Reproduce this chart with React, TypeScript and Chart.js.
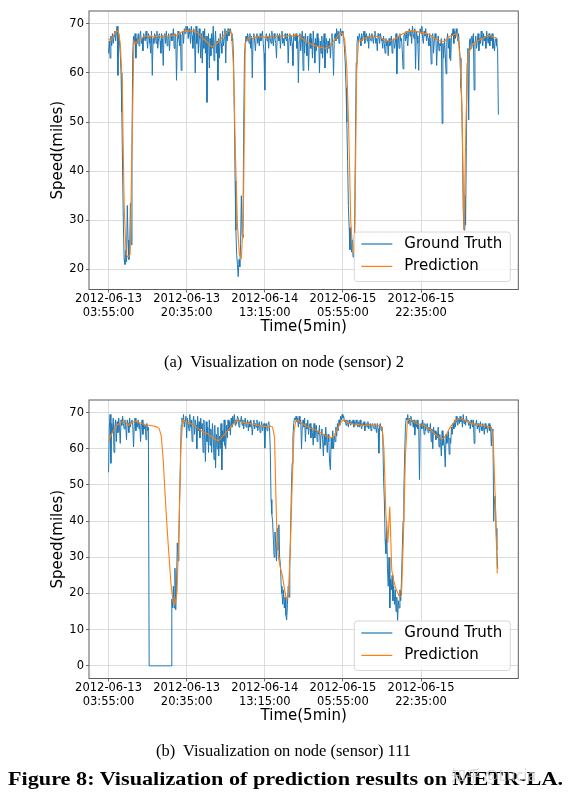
import React, { useEffect, useRef } from "react";
import Chart from "chart.js/auto";

const xTickValues = [0, 200, 400, 600, 800];
const xTickLabels = [
  ["2012-06-13", "03:55:00"],
  ["2012-06-13", "20:35:00"],
  ["2012-06-14", "13:15:00"],
  ["2012-06-15", "05:55:00"],
  ["2012-06-15", "22:35:00"],
];
const xRange = [-50, 1049];

const seriesLabels = ["Ground Truth", "Prediction"];
const seriesColors = ["#1f77b4", "#ff7f0e"];

// ground truth read every 2 time steps, prediction every 5 (1 step = 5 min)
const truthStep = 2;
const predStep = 5;

const truthNode2 = [
  64, 66.5, 63, 67.5, 65.5, 68, 66, 67.5, 68.5, 66.5,
  68.5, 69.5, 59.5, 68, 66.5, 64, 60, 52, 40, 29,
  22, 21, 24, 21.5, 33, 26, 22, 23.5, 33.5, 25,
  45, 64, 67.5, 66, 68, 63, 67, 66, 68, 65.5,
  67.5, 68.5, 66, 67, 64.5, 68, 67, 66.5, 68.5, 67,
  65, 68, 67.5, 66, 64, 68.5, 59.5, 67, 66, 68,
  67.5, 66, 68.5, 65, 67, 68, 66.5, 64, 68, 67,
  61.5, 67.5, 68, 66, 68.5, 65.5, 67, 68, 64.5, 67.5,
  68, 66.5, 67, 69, 65, 68, 67.5, 58.5, 66, 68.5,
  67, 65.5, 68, 60.5, 67.5, 68.5, 66, 69, 68, 69.5,
  68.5, 69.5, 67, 69, 68, 66, 69.5, 67.5, 65, 69,
  68, 60, 69.5, 66, 68.5, 64, 69, 67, 63, 68,
  62, 68.5, 65, 69, 64, 67.5, 54, 66, 68, 61,
  67, 63.5, 68, 65, 69.5, 62.5, 66, 68.5, 64, 66.5,
  58.5, 67, 63, 68, 66, 64, 68.5, 65.5, 67, 69,
  62, 68.5, 66.5, 69, 67.5, 68.5, 69, 68, 66.5, 67,
  63, 52, 38, 28, 23, 21, 18.5, 22, 20.5, 25,
  35, 27, 26.5, 49, 63.5, 66, 67.5, 66.5, 68, 67,
  66, 68, 65, 67.5, 59, 67, 68, 66.5, 64.5, 67.5,
  68, 66, 67.5, 65.5, 68, 66.5, 67, 68.5, 66, 64,
  56.5, 67, 68, 66.5, 67.5, 65, 68, 67, 66, 68.5,
  67, 65.5, 68, 67, 66, 63, 68, 67.5, 66.5, 68,
  65, 67.5, 68.5, 66, 67, 65.5, 68, 67, 66.5, 68,
  62, 67, 68, 65.5, 67.5, 66, 61.5, 68, 67, 66.5,
  68, 65, 67.5, 58, 66.5, 68, 64.5, 67, 68.5, 60.5,
  67.5, 64, 68, 66, 63.5, 67.5, 60.5, 66, 68, 65,
  67, 63, 68.5, 66, 62, 67, 64.5, 68, 65.5, 67,
  60, 66.5, 64, 67.5, 63, 66, 68, 61, 65.5, 67,
  64, 66.5, 65, 67, 63, 66, 68, 65.5, 59.5, 67,
  68, 66.5, 69, 67, 68.5, 66, 68, 69, 67.5, 68.5,
  68, 67, 65, 62, 57, 50, 42, 33, 28.5, 24,
  28.5, 23.5, 26, 22.5, 24, 29, 45, 62, 66, 67.5,
  66.5, 68, 67, 65.5, 68, 66.5, 67.5, 68.5, 66, 67.5,
  68, 66.5, 67.5, 65, 68, 67, 66.5, 68, 67.5, 66,
  67.5, 68.5, 66, 67, 64.5, 68, 67.5, 66, 68, 67,
  66.5, 65, 67.5, 66, 64, 67, 65.5, 66.5, 63.5, 67,
  65.5, 66, 67.5, 64, 66.5, 67, 65, 66, 68, 59.8,
  66, 67.5, 65, 68, 66.5, 67, 64.5, 60.8, 67.5, 68,
  66.5, 68.5, 67, 65.5, 68, 69, 67.5, 68.5, 66, 69.5,
  68, 67, 69, 60.8, 68.5, 67.5, 66, 60.5, 68, 69,
  68, 69.5, 67, 66, 68.5, 67.5, 69, 66.5, 68, 67,
  65.5, 68, 66.5, 61.8, 67.5, 68, 64, 66.5, 68, 67,
  61.5, 66, 67.5, 64.5, 66, 65.5, 67, 49.7, 66, 63,
  67, 64, 59.8, 66.5, 68, 65, 67, 63, 62.5, 68,
  67.5, 69, 66, 68.5, 67, 69, 68, 66.5, 68, 65.5,
  63, 57, 55, 45, 32, 28, 35, 29, 45, 62,
  65, 50.4, 66.5, 67, 65, 67.5, 66, 68, 56.5, 66,
  67.5, 65, 66.5, 68, 64.5, 67, 66, 68.5, 67, 65.5,
  68, 66.5, 67.5, 65, 68.5, 67, 66, 68, 65.5, 67.5,
  66.5, 68, 65, 67, 64.5, 66.5, 67, 65.5, 65, 51.5,
];

const predNode2 = [
  67, 66.5, 67, 68, 68.5, 68.5, 66, 58, 33, 23,
  22.5, 23, 44, 66.5, 66, 66.5, 67, 67, 67.5, 67.5,
  67.5, 67.3, 67.6, 67.2, 67.5, 67.4, 67.6, 67.3, 67.5, 67.6,
  67.5, 67.4, 67.6, 67.5, 67.8, 67.6, 68, 68.2, 68.4, 68.5,
  68.6, 68.5, 68.7, 68.5, 68.6, 68.3, 68, 67.7, 67.2, 66.8,
  66.5, 66, 65.6, 65.3, 65.5, 65.8, 66.2, 66.8, 67.2, 67.6,
  68, 68.4, 68.6, 68, 61, 43, 29, 23, 22.3, 30,
  66, 66.8, 67, 67.2, 67, 67.3, 67.2, 67.5, 67.3, 67.4,
  67.2, 67.5, 67.3, 67.4, 67.5, 67.3, 67.4, 67.6, 67.5, 67.5,
  67.6, 67.4, 67.5, 67.7, 67.5, 67.6, 67.8, 67.6, 67.3, 67,
  66.8, 66.5, 66.3, 66, 65.8, 65.7, 65.5, 65.4, 65.3, 65.2,
  65.1, 65, 65.1, 65.4, 65.8, 66.3, 66.8, 67.3, 67.8, 68,
  68, 66.5, 61, 48, 30, 23.5, 24, 60, 66.5, 66.5,
  66.8, 67, 67.2, 67.3, 67.5, 67.4, 67.5, 67.5, 67.3, 67.2,
  67, 66.8, 66.7, 66.5, 66.5, 66.6, 66.8, 67, 67.3, 67.6,
  67.8, 68, 68.2, 68.4, 68.5, 68.6, 68.5, 68.5, 68.4, 68.3,
  68.2, 68.1, 68, 68, 67.8, 67.6, 67.3, 67, 66.8, 66.6,
  66.5, 66.4, 66.5, 66.8, 67.2, 67.5, 67.6, 67.8, 68, 67,
  63, 52, 28, 50, 63.5, 64.5, 65.5, 66, 66.3, 66.5,
  66.7, 66.9, 67.1, 67.3, 67.5, 67.6, 67.5, 67.3, 67.2, 67,
];

const yTicksNode2 = [20, 30, 40, 50, 60, 70];
const yRangeNode2 = [15.9, 72.6];

const truthNode111 = [
  53.5, 66, 69.5, 56, 67, 64.5, 68.5, 59, 66, 68,
  62, 67.5, 64.5, 68.5, 66, 61.5, 68, 66.5, 69, 67,
  65.5, 68, 66.5, 62.5, 68, 67, 64.5, 68.5, 66, 67.5,
  68, 66.5, 60.5, 67, 68.5, 65, 67.5, 66, 68, 65.5,
  67, 62, 66.5, 68, 64, 67, 65.5, 66.5, 62.5, 67,
  65, 66, 0, 0, 0, 0, 0, 0, 0, 0,
  0, 0, 0, 0, 0, 0, 0, 0, 0, 0,
  0, 0, 0, 0, 0, 0, 0, 0, 0, 0,
  0, 18.5, 16, 22, 16, 27, 15.5, 22, 34, 29,
  35, 46, 56, 66.5, 68.5, 67, 69.5, 66, 68, 69,
  63, 68.5, 67, 65, 69.5, 66, 68, 62, 67.5, 69,
  64, 68, 66.5, 60, 69, 65, 67.5, 63, 68.5, 65.5,
  67, 59, 68, 64, 56.5, 67.5, 62, 66, 59, 68,
  61, 65.5, 59, 67, 63, 57, 66.5, 54.7, 64, 60,
  66, 58, 63.5, 60, 67, 54.2, 65, 62, 68, 61,
  60, 66.5, 63, 68, 65, 67.5, 63.8, 68.5, 66, 69,
  67, 69.5, 66.5, 68, 67, 69, 68.5, 66, 68, 67.5,
  69, 66.5, 68, 65.5, 67.5, 68.5, 66, 67, 68, 65,
  67.5, 66, 68, 67, 63.8, 66.5, 68, 65.5, 67, 66,
  68, 65, 66.5, 67.5, 64.5, 66, 67.5, 65, 66.5, 67,
  60.2, 66.5, 67, 65, 66.5, 67.5, 66, 60, 46, 42,
  40, 35, 30, 37, 34, 29, 38, 32, 39, 30,
  28, 22, 20, 17, 21, 16, 19, 14, 12.7, 17,
  22, 19, 28, 37, 48, 56, 63, 67, 68.5, 68,
  69, 67.5, 68.5, 66, 69, 67, 68, 60, 66.5, 68,
  66, 68.5, 62, 67, 65.5, 68, 64, 66.5, 67, 63,
  66, 64.5, 61, 67, 63, 65.5, 66.5, 62, 65, 64,
  66.5, 60, 64, 65.5, 62.5, 58, 64, 61, 66, 63,
  59, 64, 62, 56, 54.2, 63, 60, 65, 60, 63.5,
  62, 66, 63.5, 67, 65, 68, 66.5, 69, 68, 69.5,
  68.5, 69, 67.5, 68, 66.5, 68, 67.5, 66, 68, 67,
  66.5, 67.5, 67, 68, 66, 67.5, 66.5, 68, 67, 66,
  67.5, 66, 68, 66.5, 65.5, 67, 66.5, 67.5, 65, 66.5,
  67, 66, 67.5, 65.5, 66.5, 67, 65, 66.5, 67, 66,
  65.5, 67, 66, 64.5, 67, 65.5, 58.8, 66.5, 67, 65,
  66, 64, 52, 46, 35, 31, 40, 27, 22, 30,
  16, 24, 21, 25, 18, 22, 17, 21, 15, 19,
  12.5, 18, 16, 21, 18, 24, 32, 40, 48, 58,
  66, 68.5, 68, 69.5, 67, 68.5, 66.5, 69, 67.5, 68,
  66, 68, 63.8, 67.5, 66, 68, 65.5, 67, 51.5, 66,
  67, 65.5, 68, 66.5, 64, 67, 65, 66.5, 67, 64.5,
  66, 65, 67, 62, 65.5, 60, 66, 64, 65, 62.5,
  64.5, 63, 66, 60.5, 64, 62, 58, 65, 61, 63.5,
  60, 55, 64, 61.5, 62.5, 65, 58.5, 63, 61.5, 66,
  64, 67, 65.5, 68, 66, 69, 67.5, 66.5, 68.5, 67,
  69, 67.5, 68.5, 66, 69.5, 67, 68, 66.5, 69, 67.5,
  68, 66.5, 67.5, 65.5, 68, 67, 66, 68, 61.5, 67,
  66.5, 68, 65.5, 67, 66, 64.5, 67.5, 66, 65, 67,
  66, 64, 67, 65.5, 66.5, 64.5, 66, 67, 65, 66.5,
  60.8, 65, 65.5, 40, 46, 47, 38, 32, 27, 27,
];

const predNode111 = [
  62, 63.5, 64.5, 65.5, 66.2, 66.8, 67.2, 67.5, 67.6, 67.3,
  66.5, 66.8, 67.3, 67.5, 67.6, 67.4, 67.2, 67, 66.8, 66.6,
  66.5, 66.5, 66.4, 66.3, 66.2, 66, 65.5, 63.5, 57, 47,
  38, 30, 22.5, 18, 17, 20, 36, 60, 68, 67.5,
  67.5, 67.3, 67, 66.7, 66.3, 66, 65.6, 65.2, 64.8, 64.4,
  64.4, 64, 63.6, 63.2, 62.8, 62.5, 62.2, 62.5, 63.2, 63.8,
  64.4, 65, 65.6, 66.3, 67, 67.5, 67.8, 67.6, 67.4, 67.3,
  67.2, 67, 67.1, 66.9, 66.8, 66.7, 66.6, 66.5, 66.4, 66.3,
  66.2, 66.1, 66, 66.3, 66, 63, 40, 30, 27, 25,
  21.5, 18.5, 19, 31, 50, 65, 68, 67.8, 67.5, 67,
  66.7, 66.4, 66.1, 65.8, 65.6, 65.5, 65.2, 64.9, 64.6, 64.3,
  64, 63.7, 63.4, 63.2, 63, 63.4, 64.2, 65.2, 66.4, 67.4,
  68, 67.8, 67.4, 67.1, 67, 66.9, 66.8, 66.7, 66.7, 66.6,
  66.6, 66.5, 66.6, 66.5, 66.5, 66.6, 66.5, 66.4, 66.5, 66.4,
  66, 60, 42, 34, 44, 26.5, 23.5, 21.5, 20.2, 19,
  19.5, 36, 58, 67.5, 68.2, 68, 67.6, 67.2, 66.9, 66.7,
  66.6, 66.5, 66.3, 66, 65.6, 65.2, 64.7, 64.2, 63.7, 63.3,
  63, 62.8, 63.2, 64, 65, 66, 66.8, 67.4, 67.9, 68.2,
  68.3, 68.2, 68, 67.7, 67.4, 67.1, 67, 66.9, 66.8, 66.7,
  66.6, 66.5, 66.4, 66.3, 66.2, 66.1, 66, 62, 46, 25.5,
];

const yTicksNode111 = [0, 10, 20, 30, 40, 50, 60, 70];
const yRangeNode111 = [-3.5, 73.5];

const FONT = "DejaVu Sans";

// matplotlib-like closed frame plus a legend box inside the lower right corner
const frameLegend = {
  id: "frameLegend",
  afterDatasetsDraw(chart: any) {
    const { ctx, chartArea: a } = chart;
    ctx.save();
    ctx.strokeStyle = "#5e5e5e";
    ctx.lineWidth = 1;
    ctx.strokeRect(a.left, a.top, a.right - a.left, a.bottom - a.top);

    const w = 156;
    const h = 49.5;
    const lx = a.right - 8 - w;
    const ly = a.bottom - 8 - h;
    ctx.beginPath();
    ctx.roundRect(lx, ly, w, h, 3);
    ctx.fillStyle = "rgba(255,255,255,0.8)";
    ctx.fill();
    ctx.strokeStyle = "#d8d8d8";
    ctx.stroke();
    ctx.font = `15px "${FONT}"`;
    ctx.textBaseline = "middle";
    chart.data.datasets.forEach((ds: any, i: number) => {
      const cy = ly + 12 + i * 22.4;
      ctx.strokeStyle = ds.borderColor;
      ctx.lineWidth = 1.2;
      ctx.beginPath();
      ctx.moveTo(lx + 7, cy);
      ctx.lineTo(lx + 38, cy);
      ctx.stroke();
      ctx.fillStyle = "#000";
      ctx.fillText(ds.label, lx + 50, cy);
    });
    ctx.restore();
  },
};

interface PanelProps {
  truth: number[];
  pred: number[];
  yTicks: number[];
  yRange: number[];
  top: number;
}

const Panel = ({ truth, pred, yTicks, yRange, top }: PanelProps) => {
  const chartRef = useRef<HTMLCanvasElement | null>(null);

  useEffect(() => {
    if (!chartRef.current) return;
    const chart = new Chart(chartRef.current, {
      type: "line",
      data: {
        datasets: [
          {
            label: seriesLabels[0],
            data: truth.map((v, i) => ({ x: i * truthStep, y: v })),
            borderColor: seriesColors[0],
            borderWidth: 1,
            pointRadius: 0,
            order: 2,
          },
          {
            label: seriesLabels[1],
            data: pred.map((v, i) => ({ x: i * predStep, y: v })),
            borderColor: seriesColors[1],
            borderWidth: 1.1,
            pointRadius: 0,
            order: 1,
          },
        ],
      },
      options: {
        responsive: false,
        animation: false,
        events: [],
        layout: { padding: { left: 0, top: 11, right: 49.7, bottom: 0 } },
        plugins: { legend: { display: false }, tooltip: { enabled: false } },
        scales: {
          x: {
            type: "linear",
            min: xRange[0],
            max: xRange[1],
            afterBuildTicks: (s: any) => {
              s.ticks = xTickValues.map((v) => ({ value: v }));
            },
            afterFit: (s: any) => {
              s.height = 50.5;
            },
            ticks: {
              autoSkip: false,
              maxRotation: 0,
              minRotation: 0,
              padding: 0,
              color: "#000",
              font: { family: FONT, size: 11.5 },
              callback: (v: any) => xTickLabels[xTickValues.indexOf(v)],
            },
            grid: { color: "#d3d3d3", lineWidth: 0.8, tickLength: 3, tickColor: "#444" },
            border: { display: false },
            title: {
              display: true,
              text: "Time(5min)",
              color: "#000",
              font: { family: FONT, size: 15 },
              padding: { top: 0, bottom: 4 },
            },
          },
          y: {
            type: "linear",
            min: yRange[0],
            max: yRange[1],
            afterBuildTicks: (s: any) => {
              s.ticks = yTicks.map((v) => ({ value: v }));
            },
            afterFit: (s: any) => {
              s.width = 89;
            },
            ticks: {
              padding: 2,
              color: "#000",
              font: { family: FONT, size: 11.5 },
            },
            grid: { color: "#d3d3d3", lineWidth: 0.8, tickLength: 3, tickColor: "#444" },
            border: { display: false },
            title: {
              display: true,
              text: "Speed(miles)",
              color: "#000",
              font: { family: FONT, size: 15 },
              padding: { top: 49, bottom: 0 },
            },
          },
        },
      },
      plugins: [frameLegend],
    });

    return () => {
      chart.destroy();
    };
  }, []);

  return (
    <canvas
      ref={chartRef}
      width={568}
      height={340}
      style={{ position: "absolute", left: 0, top, width: 568, height: 340 }}
    />
  );
};

const App = () => {
  const serif = "Liberation Serif";
  return (
    <div style={{ position: "absolute", left: 0, top: 0, width: 568, height: 799, background: "#fff" }}>
      <Panel truth={truthNode2} pred={predNode2} yTicks={yTicksNode2} yRange={yRangeNode2} top={0} />
      <Panel truth={truthNode111} pred={predNode111} yTicks={yTicksNode111} yRange={yRangeNode111} top={389} />
      <svg width={568} height={799} style={{ position: "absolute", left: 0, top: 0, pointerEvents: "none" }}>
        <text x={284} y={367} textAnchor="middle" fontFamily={serif} fontSize={16} textLength={240}
          lengthAdjust="spacingAndGlyphs" style={{ whiteSpace: "pre" }}>
          {"(a)  Visualization on node (sensor) 2"}
        </text>
        <text x={283.5} y={756} textAnchor="middle" fontFamily={serif} fontSize={16} textLength={255}
          lengthAdjust="spacingAndGlyphs" style={{ whiteSpace: "pre" }}>
          {"(b)  Visualization on node (sensor) 111"}
        </text>
        <text x={8} y={785} fontFamily={serif} fontSize={18} fontWeight="bold" textLength={555}
          lengthAdjust="spacingAndGlyphs">
          Figure 8: Visualization of prediction results on METR-LA.
        </text>
        <text x={451} y={781} fontFamily="Noto Sans CJK SC" fontSize={15} fill="#d0d0d0" opacity={0.85}>
          知乎 @Lucia
        </text>
      </svg>
    </div>
  );
};

export default App;
